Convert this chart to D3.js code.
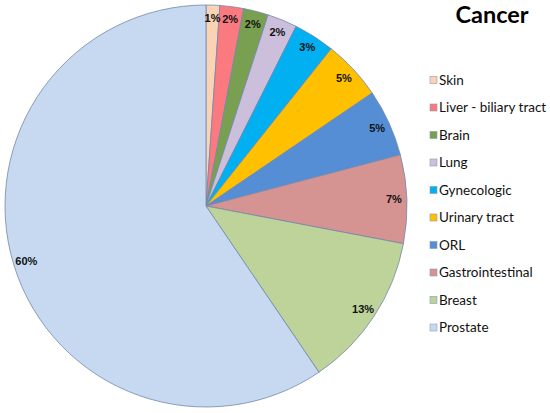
<!DOCTYPE html>
<html>
<head>
<meta charset="utf-8">
<script src="https://cdn.jsdelivr.net/npm/d3@7"></script>
<style>
  body { margin: 0; background: #fff; }
  svg { display: block; }
</style>
</head>
<body>
<svg></svg>
<script>
// Chart data
const categories = ["Skin", "Liver - biliary tract", "Brain", "Lung", "Gynecologic",
  "Urinary tract", "ORL", "Gastrointestinal", "Breast", "Prostate"];
const shares = [1.1, 1.9, 2.0, 2.4, 3.3, 4.8, 5.4, 7.1, 12.5, 59.5];
const colors = ["#f9d3b3", "#fb7a80", "#78a050", "#cbbfdb", "#00b0f0",
  "#ffc000", "#558ed5", "#d59392", "#bdd39a", "#c6d9f1"];
const title = "Cancer";

const width = 550, height = 413;
const cx = 206, cy = 206, radius = 201;

const svg = d3.select("svg")
  .attr("width", width)
  .attr("height", height);

const rows = categories.map((c, i) => ({ name: c, value: shares[i], color: colors[i] }));

const pie = d3.pie().sort(null).value((d) => d.value);
const arc = d3.arc().innerRadius(0).outerRadius(radius);
const labelArc = d3.arc().innerRadius(188).outerRadius(188);

const g = svg.append("g").attr("transform", `translate(${cx},${cy})`);

// Slices
g.selectAll("path")
  .data(pie(rows))
  .enter()
  .append("path")
  .attr("d", arc)
  .attr("fill", (d) => d.data.color)
  .attr("stroke", "#7488ab")
  .attr("stroke-width", 0.8);

// Percent labels
g.selectAll("text")
  .data(pie(rows))
  .enter()
  .append("text")
  .attr("transform", (d) => `translate(${labelArc.centroid(d)})`)
  .attr("text-anchor", "middle")
  .attr("dy", "0.35em")
  .style("font-family", "'Liberation Sans', Arial, sans-serif")
  .style("font-weight", "bold")
  .style("font-size", "11px")
  .style("fill", "#111")
  .text((d) => Math.round(d.data.value) + "%");

// Title
svg.append("text")
  .attr("x", 492)
  .attr("y", 23)
  .attr("text-anchor", "middle")
  .style("font-family", "Lato, 'Open Sans', sans-serif")
  .style("font-weight", "bold")
  .style("font-size", "23.5px")
  .style("fill", "#000")
  .text(title);

// Legend
const legend = svg.append("g").attr("transform", "translate(430,80)");
const step = 27.5;

const item = legend.selectAll("g")
  .data(rows)
  .enter()
  .append("g")
  .attr("transform", (d, i) => `translate(0,${i * step})`);

item.append("rect")
  .attr("x", 0)
  .attr("y", -3.5)
  .attr("width", 7)
  .attr("height", 7)
  .attr("fill", (d) => d.color)
  .attr("stroke", "#8a9bb8")
  .attr("stroke-width", 0.6);

item.append("text")
  .attr("x", 9)
  .attr("dy", "0.35em")
  .style("font-family", "Lato, 'Open Sans', sans-serif")
  .style("font-size", "13.5px")
  .style("fill", "#111")
  .text((d) => d.name);
</script>
</body>
</html>
